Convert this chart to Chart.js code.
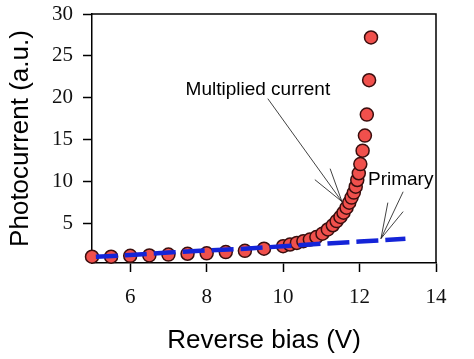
<!DOCTYPE html>
<html>
<head>
<meta charset="utf-8">
<script src="https://cdn.jsdelivr.net/npm/chart.js@4.4.1/dist/chart.umd.min.js"></script>
<style>
html,body{margin:0;padding:0;background:#fff;}
#wrap{width:474px;height:359px;position:relative;}
</style>
</head>
<body>
<div id="wrap"><canvas id="c" width="474" height="359"></canvas></div>
<script>
// ---- data ----
const biasV = [5,5.5,6,6.5,7,7.5,8,8.5,9,9.5,10,10.18,10.36,10.53,10.7,10.87,11.03,11.17,11.3,11.4,11.5,11.58,11.66,11.73,11.79,11.85,11.9,11.94,11.98,12.02,12.08,12.14,12.19,12.25,12.3];
const multipliedCurrent = [1.05,1.05,1.15,1.2,1.3,1.4,1.45,1.6,1.75,2.0,2.3,2.5,2.7,2.9,3.1,3.4,3.8,4.3,4.8,5.3,5.8,6.3,6.9,7.5,8.1,8.7,9.4,10.2,11.0,12.1,13.7,15.5,18.0,22.1,27.2];
const primaryV = [5.1,6,7,8,9,10,11,12,13.2];
const primaryCurrent = [1.05,1.25,1.55,1.8,2.0,2.3,2.6,2.85,3.2];
const xTicks = [6,8,10,12,14];
const yTicks = [5,10,15,20,25,30];
const xTitle = 'Reverse bias (V)';
const yTitle = 'Photocurrent (a.u.)';
const labelMultiplied = 'Multiplied current';
const labelPrimary = 'Primary';

// annotation geometry in data units
const annMultiplied = {text:[9.34,21.0], shaft:[9.6,19.9], tip:[11.54,7.62], barbs:[[10.83,10.24],[11.23,11.55]]};
const annPrimary = {text:[12.22,10.24], shaft:[13.14,8.8], tip:[12.56,3.21], barbs:[[12.74,7.5],[13.14,6.43]]};

const boxPlugin = {
  id:'box',
  afterDatasetsDraw(chart){
    const {ctx, chartArea:a, scales:{x,y}} = chart;
    ctx.save();
    ctx.strokeStyle='#000'; ctx.lineWidth=1.5;
    ctx.beginPath();
    ctx.moveTo(a.left,a.top); ctx.lineTo(a.right,a.top); ctx.lineTo(a.right,a.bottom);
    ctx.stroke();
    // annotations
    ctx.lineWidth=0.8; ctx.strokeStyle='#111';
    ctx.fillStyle='#000';
    ctx.font='19px "Liberation Sans", Arial, sans-serif';
    ctx.textBaseline='middle';
    const P = p => [x.getPixelForValue(p[0]), y.getPixelForValue(p[1])];
    [annMultiplied, annPrimary].forEach((an,i)=>{
      const t=P(an.tip);
      [an.shaft, ...an.barbs].forEach(s=>{
        const q=P(s); ctx.beginPath(); ctx.moveTo(q[0],q[1]); ctx.lineTo(t[0],t[1]); ctx.stroke();
      });
      const tp=P(an.text);
      ctx.textAlign = i===0 ? 'center' : 'left';
      ctx.fillText(i===0?labelMultiplied:labelPrimary, tp[0], tp[1]);
    });
    ctx.restore();
  }
};

new Chart(document.getElementById('c'), {
  type:'scatter',
  data:{
    datasets:[
      {
        label:'Primary',
        type:'line',
        data: primaryV.map((v,i)=>({x:v,y:primaryCurrent[i]})),
        borderColor:'#1424d8',
        borderWidth:4.5,
        borderDash:[22,7],
        pointRadius:0,
        tension:0,
        fill:false,
        clip:false,
        order:0
      },
      {
        label:'Multiplied current',
        data: biasV.map((v,i)=>({x:v,y:multipliedCurrent[i]})),
        backgroundColor:'#f0504c',
        borderColor:'#3a0e0e',
        borderWidth:1.5,
        pointRadius:6.5,
        clip:false,
        order:1
      }
    ]
  },
  options:{
    responsive:false,
    animation:false,
    events:[],
    layout:{padding:{top:14,right:38,left:0,bottom:0}},
    plugins:{legend:{display:false},tooltip:{enabled:false}},
    scales:{
      x:{
        type:'linear', min:5, max:14,
        afterBuildTicks(s){ s.ticks = xTicks.map(v=>({value:v})); },
        afterFit(s){ s.height = 96; s.paddingLeft = 0; s.paddingRight = 0; },
        grid:{drawOnChartArea:false, color:'#000', tickLength:9, tickWidth:1.5},
        border:{color:'#000', width:1.5},
        ticks:{color:'#111', padding:13, font:{family:'"Liberation Serif", "Times New Roman", serif', size:21}, maxRotation:0},
        title:{display:true, text:xTitle, color:'#000', font:{family:'"Liberation Sans", Arial, sans-serif', size:26}, padding:{top:0,bottom:3}}
      },
      y:{
        type:'linear', min:0.3, max:30,
        afterBuildTicks(s){ s.ticks = yTicks.map(v=>({value:v})); },
        afterFit(s){ s.width = 92; s.paddingTop = 0; s.paddingBottom = 0; },
        grid:{drawOnChartArea:false, color:'#000', tickLength:9, tickWidth:1.5},
        border:{color:'#000', width:1.5},
        ticks:{color:'#111', padding:10, font:{family:'"Liberation Serif", "Times New Roman", serif', size:21}},
        title:{display:true, text:yTitle, color:'#000', font:{family:'"Liberation Sans", Arial, sans-serif', size:26}, padding:{top:5,bottom:0}}
      }
    }
  },
  plugins:[boxPlugin]
});
</script>
</body>
</html>
